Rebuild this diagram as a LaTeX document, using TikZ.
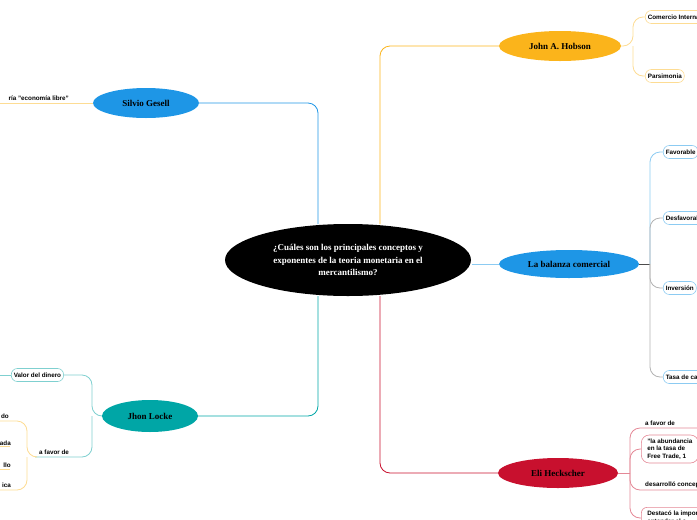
\documentclass[tikz,border=0pt]{standalone}
\usepackage{fontspec}
\setmainfont{Liberation Serif}
\setsansfont{Liberation Sans}
\begin{document}
\begin{tikzpicture}[x=1pt,y=-1pt,
  main/.style={ellipse,minimum width=#1,inner sep=0pt,font=\rmfamily\bfseries\fontsize{9}{10}\selectfont},
  pill/.style={draw,rounded corners=6pt,fill=white,line width=0.6pt,inner sep=2.5pt,minimum height=13pt,anchor=west,font=\sffamily\bfseries\fontsize{6.3}{7.3}\selectfont,align=left},
  lab/.style={anchor=south west,inner sep=1pt,font=\sffamily\bfseries\fontsize{6.3}{7.3}\selectfont},
  br/.style={line width=0.8pt,rounded corners=10pt}]
\usetikzlibrary{shapes.geometric}
\useasboundingbox (0,0) rectangle (697,520);
\definecolor{cblue}{HTML}{1E96E6}
\definecolor{cteal}{HTML}{00A6A6}
\definecolor{corange}{HTML}{FBB41B}
\definecolor{cred}{HTML}{C8102E}
\definecolor{lblue}{HTML}{8CCBF2}
\definecolor{lteal}{HTML}{7FD0D0}
\definecolor{lorange}{HTML}{FDDC93}
\definecolor{lred}{HTML}{E48896}

% branches from centre
\coordinate (c1) at (318,224); \coordinate (c2) at (380,224);
\coordinate (c3) at (318,296); \coordinate (c4) at (380,296);
\draw[br,cblue] (c1) -- (318,103) -- (199,103);
\draw[br,corange] (c2) -- (380,46) -- (499,46);
\draw[br,cteal] (c3) -- (318,416) -- (198,416);
\draw[br,cred] (c4) -- (380,473) -- (498,473);
\draw[line width=0.8pt,lblue] (472,264) -- (499,264);

\node[main=246pt,minimum height=72pt,fill=black,text=white,align=center,font=\rmfamily\bfseries\fontsize{9}{12.5}\selectfont] (c) at (348,260) {¿Cuáles son los principales conceptos y\\exponentes de la teoria monetaria en el\\mercantilismo?};
\node[main=106pt,minimum height=30pt,fill=cblue] (sg) at (146,103) {Silvio Gesell};
\node[main=96pt,minimum height=32pt,fill=cteal] (jl) at (150,416) {Jhon Locke};
\node[main=122pt,minimum height=30pt,fill=corange] (jh) at (560,46) {John A. Hobson};
\node[main=140pt,minimum height=28pt,fill=cblue] (bc) at (569,264) {La balanza comercial};
\node[main=120pt,minimum height=30pt,fill=cred,text=black] (eh) at (558,473) {Eli Heckscher};

% Silvio Gesell
\coordinate (sgt) at (0,103);
\draw[line width=0.8pt,lorange] (sg.west) -- (sgt);
\node[lab,anchor=south east] (sgl) at (70,102) {ría "economía libre"};

% Jhon Locke
\node[pill,draw=lteal] (vd) at (11,375) {Valor del dinero};
\node[lab] (af) at (38,456) {a favor de};
\draw[br,lteal] (jl.west) -- (92,416) -- (92,375) -- (vd.east);
\draw[br,lteal] (92,416) -- (92,457) -- (35,457);
\draw[line width=0.8pt,lteal] (vd.west) -- (0,375);
\draw[br,lorange] (35,457) -- (27,457) -- (27,421) -- (0,421);
\draw[br,lorange] (27,457) -- (27,490) -- (0,490);
\draw[line width=0.8pt,lorange] (0,446)--(10,446) (0,469)--(10,469);
\node[lab,anchor=south east] at (10,420) {do};
\node[lab,anchor=east] at (12,443) {ada};
\node[lab,anchor=east] at (12,465) {llo};
\node[lab,anchor=east] at (12,485) {ica};

% Hobson
\node[pill,draw=lorange] (ci) at (645,17) {Comercio Internacional};
\node[pill,draw=lorange] (pa) at (645,76) {Parsimonia};
\draw[br,lorange] (jh.east) -- (633,46) -- (633,17) -- (ci.west);
\draw[br,lorange] (633,46) -- (633,76) -- (pa.west);

% Balanza
\node[pill,draw=lblue] (f1) at (663,152) {Favorable};
\node[pill,draw=lblue] (f2) at (663,218) {Desfavorable};
\node[pill,draw=lblue] (f3) at (663,288) {Inversión};
\node[pill,draw=lblue] (f4) at (663,377) {Tasa de cambio};
\draw[line width=0.8pt,black!70] (bc.east) -- (650,264);
\draw[br,lblue] (650,264) -- (650,152) -- (f1.west);
\draw[br,black!30] (650,264) -- (650,218) -- (f2.west);
\draw[br,black!30] (650,264) -- (650,288) -- (f3.west);
\draw[br,black!30] (650,264) -- (650,377) -- (f4.west);

% Heckscher
\node[lab] (h1) at (644,427) {a favor de};
\node[pill,draw=lred,rounded corners=8pt,minimum height=28pt,inner xsep=6pt] (h2) at (641,449) {"la abundancia\\en la tasa de\\Free Trade, 1};
\node[lab] (h3) at (644,489) {desarrolló conceptos};
\node[pill,draw=lred,minimum height=20pt,inner xsep=6pt,anchor=north west] (h4) at (641,507) {Destacó la importancia\\entender el c};
\draw[line width=0.8pt,lred] (eh.east) -- (630,473);
\draw[br,lred] (630,473) -- (630,428) -- (697,428);
\draw[br,lred] (630,473) -- (630,449) -- (h2.west);
\draw[br,lred] (630,473) -- (630,490) -- (697,490);
\draw[br,lred] (630,473) -- (630,518) -- (641,518);
\end{tikzpicture}
\end{document}
